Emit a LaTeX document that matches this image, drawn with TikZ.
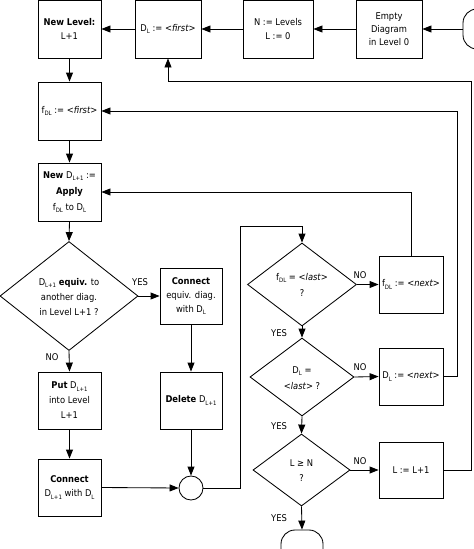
\documentclass[tikz,border=0pt]{standalone}
\usepackage{fontspec}
\setmainfont{DejaVu Sans}[FakeStretch=0.9]
\usetikzlibrary{arrows.meta,shapes.geometric,calc}
\newcommand\lsb[1]{\raisebox{-0.45ex}{\fontsize{6pt}{6pt}\selectfont #1}}
\begin{document}
\begin{tikzpicture}[x=1pt,y=-1pt,
  every node/.style={font=\fontsize{9.3pt}{14pt}\selectfont, inner sep=0pt},
  box/.style={draw, line width=0.85pt, align=center},
  dia/.style={draw, diamond, line width=0.85pt, inner sep=0pt},
  term/.style={draw, line width=0.85pt, rounded corners=14pt},
  lbl/.style={align=center},
  arr/.style={line width=0.85pt, -{Triangle[length=9pt,width=7pt]}},
  ln/.style={line width=0.85pt}]
\useasboundingbox (0,0) rectangle (474,549);
% top row
\node[box, minimum width=63pt, minimum height=58pt] (newlev) at (69.5,29) {\textbf{New Level:}\\L+1};
\node[box, minimum width=66pt, minimum height=58pt] (dlfirst) at (168,29) {D\lsb{L} := \textit{<first>}};
\node[box, minimum width=70pt, minimum height=58pt] (nlev) at (278,29) {N := Levels\\L := 0};
\node[box, minimum width=66pt, minimum height=58pt, font=\fontsize{9.3pt}{13pt}\selectfont] (empty) at (389,29) {Empty\\Diagram\\in Level 0};
\node[term, minimum width=44pt, minimum height=40pt] (start) at (485,29) {};
% left column
\node[box, minimum width=63pt, minimum height=58pt] (fdlfirst) at (69.5,111) {f\lsb{DL} := \textit{<first>}};
\node[box, minimum width=63pt, minimum height=58pt, font=\fontsize{9.3pt}{16pt}\selectfont] (newD) at (69.5,192) {\textbf{New} D\lsb{L+1} :=\\\textbf{Apply}\\f\lsb{DL} to D\lsb{L}};
\node[dia, minimum width=138pt, minimum height=109pt] (dia1) at (69,296) {};
\node[lbl, font=\fontsize{9.3pt}{15pt}\selectfont] (t1) at (69,297) {D\lsb{L+1} \textbf{equiv.} to\\another diag.\\in Level L+1 ?};
\node[box, minimum width=62pt, minimum height=56pt] (conn1) at (191,296) {\textbf{Connect}\\equiv. diag.\\with D\lsb{L}};
\node[box, minimum width=63pt, minimum height=57pt, font=\fontsize{9.3pt}{15pt}\selectfont] (put) at (69.5,400.5) {\textbf{Put} D\lsb{L+1}\\into Level\\L+1};
\node[box, minimum width=62pt, minimum height=57pt] (delete) at (191,400.5) {\textbf{Delete} D\lsb{L+1}};
\node[box, minimum width=63pt, minimum height=57pt] (conn2) at (69.5,487.5) {\textbf{Connect}\\D\lsb{L+1} with D\lsb{L}};
\node[draw, circle, line width=0.85pt, minimum size=24pt] (circ) at (191,488) {};
% right column
\node[dia, minimum width=109pt, minimum height=83pt] (dia2) at (302,284.5) {};
\node[lbl, font=\fontsize{9.3pt}{16pt}\selectfont] (t2) at (302,285) {f\lsb{DL} = \textit{<last>}\\?};
\node[box, minimum width=64pt, minimum height=57pt] (fnext) at (411,284.5) {f\lsb{DL} := \textit{<next>}};
\node[dia, minimum width=104pt, minimum height=78pt] (dia3) at (302,377) {};
\node[lbl, font=\fontsize{9.3pt}{16pt}\selectfont] (t3) at (302,378) {D\lsb{L} =\\\textit{<last>} ?};
\node[box, minimum width=64pt, minimum height=57pt] (dnext) at (411,376.5) {D\lsb{L} := \textit{<next>}};
\node[dia, minimum width=97pt, minimum height=72pt] (dia4) at (301.5,470) {};
\node[lbl, font=\fontsize{9.3pt}{15pt}\selectfont] (t4) at (301.5,471) {L ≥ N\\?};
\node[box, minimum width=64pt, minimum height=56pt] (lnext) at (411,470) {L := L+1};
\node[term, minimum width=42pt, minimum height=40pt] (endt) at (302,550) {};
% labels
\node (y1) at (140,282) {YES};
\node (n1) at (52,357) {NO};
\node (n2) at (360,275) {NO};
\node (n3) at (360,367) {NO};
\node (n4) at (360,461) {NO};
\node (y2) at (279,333) {YES};
\node (y3) at (279,426) {YES};
\node (y4) at (279,518) {YES};
% helper coordinates
\coordinate (c1) at (240,226);
\coordinate (c2) at (457,111);
\coordinate (c3) at (471,81);
% connectors
\draw[arr] (start.west) -- (empty.east);
\draw[arr] (empty.west) -- (nlev.east);
\draw[arr] (nlev.west) -- (dlfirst.east);
\draw[arr] (dlfirst.west) -- (newlev.east);
\draw[arr] (newlev.south) -- (fdlfirst.north);
\draw[arr] (fdlfirst.south) -- (newD.north);
\draw[arr] (newD.south) -- (dia1.north);
\draw[arr] (dia1.east) -- (conn1.west);
\draw[arr] (dia1.south) -- (put.north);
\draw[arr] (conn1.south) -- (delete.north);
\draw[arr] (put.south) -- (conn2.north);
\draw[arr] (delete.south) -- (circ.north);
\draw[arr] (conn2.east) -- (circ.west);
\draw[arr] (circ.east) -| (c1) -| (dia2.north);
\draw[arr] (dia2.east) -- (fnext.west);
\draw[arr] (fnext.north) |- (newD.east);
\draw[arr] (dia2.south) -- (dia3.north);
\draw[arr] (dia3.east) -- (dnext.west);
\draw[arr] (dnext.east) -| (c2) -- (fdlfirst.east);
\draw[arr] (dia3.south) -- (dia4.north);
\draw[arr] (dia4.east) -- (lnext.west);
\draw[arr] (lnext.east) -| (c3) -| (dlfirst.south);
\draw[arr] (dia4.south) -- (endt.north);
\end{tikzpicture}
\end{document}
